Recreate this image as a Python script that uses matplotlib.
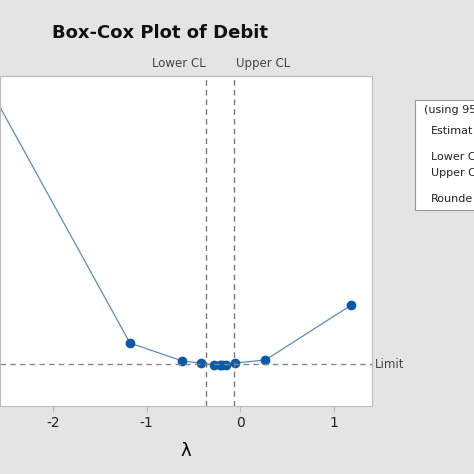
import matplotlib.pyplot as plt
from matplotlib.patches import Rectangle

# Box-Cox lambda values and StDev (arbitrary units)
lam = [-2.7, -1.18, -0.62, -0.42, -0.28, -0.22, -0.19, -0.15, -0.06, 0.27, 1.19]
stdev = [321, 63, 45, 43, 41, 41, 41, 41, 43, 46, 101]
limit = 42
lower_cl = -0.37
upper_cl = -0.07
xticks = [-2, -1, 0, 1]

fig = plt.figure(figsize=(4.74, 4.74), dpi=100, facecolor="#e4e4e4")
ax = fig.add_axes([0, 68 / 474, 372 / 474, 330 / 474])
ax.set_facecolor("white")

ax.plot(lam, stdev, color="#5b8db8", lw=0.9, marker="o", ms=6,
        mfc="#0b5aa8", mec="#0b5aa8")
ax.axhline(limit, color="#888888", ls="--", lw=1, dashes=(4, 3))
for v in (lower_cl, upper_cl):
    ax.axvline(v, color="#777777", ls="--", lw=1, dashes=(4, 3))

ax.set_xlim(-2.57, 1.41)
ax.set_ylim(0, 330)
ax.set_xticks(xticks)
ax.set_xticklabels([str(t) for t in xticks], fontsize=10, color="#222222")
ax.set_yticks([])
ax.tick_params(axis="x", length=4, color="#bbbbbb")
for s in ax.spines.values():
    s.set_color("#bbbbbb")
ax.set_xlabel("λ", fontsize=13, labelpad=8)

ax.text(lower_cl, 336, "Lower CL", ha="right", va="bottom", fontsize=8.5, color="#444444")
ax.text(upper_cl + 0.02, 336, "Upper CL", ha="left", va="bottom", fontsize=8.5, color="#444444")
fig.text(375 / 474, 1 - 364 / 474, "Limit", ha="left", va="center", fontsize=8.5, color="#444444")

fig.text(160 / 474, 1 - 33 / 474, "Box-Cox Plot of Debit", ha="center", va="center",
         fontsize=13, fontweight="semibold", color="#111111")

# partial legend box at right (cropped in the reference)
fig.patches.append(Rectangle((415 / 474, 1 - 210 / 474), 0.2, 110 / 474,
                             transform=fig.transFigure, facecolor="white",
                             edgecolor="#999999", lw=0.8))
for txt, ypx in [("(using 95", 110), ("Estimat", 131), ("Lower C", 157),
                 ("Upper C", 173), ("Rounde", 199)]:
    xpx = 424 if txt.startswith("(") else 431
    fig.text(xpx / 474, 1 - ypx / 474, txt, ha="left", va="center", fontsize=8, color="#222222")

fig.savefig("out.png", dpi=100, facecolor=fig.get_facecolor())
